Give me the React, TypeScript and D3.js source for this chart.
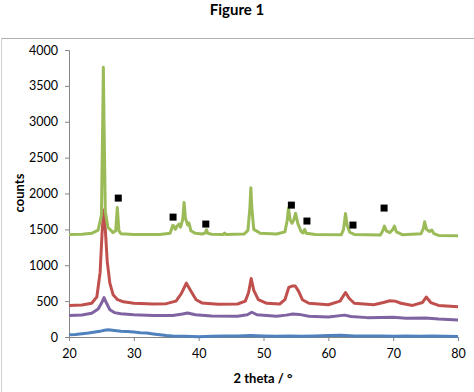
import React, { useRef, useEffect } from 'react';
import * as d3 from 'd3';

// 2 theta (deg) / counts
const greenTheta = [20, 22, 23.5, 24.5, 25.0, 25.2, 25.3, 25.4, 25.6, 26, 26.8, 27.2, 27.45, 27.7, 28, 30, 34, 35.6, 36.0, 36.2, 36.4, 36.8, 37.0, 37.2, 37.55, 37.75, 37.95, 38.3, 38.5, 38.8, 39.5, 40.5, 41.0, 41.2, 41.4, 42, 43.8, 44.0, 44.2, 47, 47.6, 47.9, 48.05, 48.2, 48.5, 49.5, 52, 53.3, 53.65, 53.85, 54.1, 54.4, 54.7, 54.95, 55.3, 55.8, 56.1, 56.35, 56.6, 58, 62, 62.35, 62.65, 62.9, 63.3, 64, 68, 68.35, 68.65, 68.95, 69.5, 69.95, 70.2, 70.5, 71.5, 74.3, 74.65, 74.85, 75.15, 75.6, 75.95, 76.3, 77, 80];
const greenCounts = [1430, 1432, 1445, 1490, 1700, 3000, 3760, 3000, 1750, 1530, 1455, 1480, 1805, 1480, 1440, 1428, 1430, 1445, 1555, 1545, 1500, 1560, 1575, 1530, 1640, 1875, 1660, 1560, 1590, 1480, 1445, 1435, 1450, 1495, 1445, 1432, 1430, 1448, 1430, 1435, 1485, 1800, 2080, 1800, 1500, 1445, 1435, 1465, 1620, 1795, 1640, 1585, 1640, 1725, 1580, 1470, 1450, 1500, 1445, 1430, 1425, 1500, 1720, 1560, 1460, 1430, 1420, 1470, 1545, 1480, 1455, 1500, 1545, 1465, 1425, 1440, 1510, 1605, 1500, 1470, 1490, 1440, 1415, 1410];

const redTheta = [20, 22, 23.5, 24.3, 24.8, 25.1, 25.35, 25.6, 25.9, 26.3, 26.8, 27.5, 28.4, 30, 33, 35, 36.5, 37.3, 38.1, 38.8, 39.6, 40.5, 43, 46, 47.2, 47.7, 48.1, 48.5, 49.2, 50.5, 52.5, 53.3, 53.9, 54.4, 54.9, 55.4, 56, 57, 60, 61.8, 62.65, 63.2, 64, 67, 68.5, 69.5, 70.3, 71.2, 73, 74.5, 75.1, 75.8, 77, 80];
const redCounts = [440, 445, 470, 560, 900, 1450, 1770, 1500, 1050, 750, 590, 520, 490, 470, 460, 465, 500, 600, 750, 640, 520, 475, 455, 460, 500, 620, 815, 650, 520, 470, 460, 520, 690, 710, 710, 640, 520, 470, 450, 500, 620, 540, 470, 450, 480, 505, 500, 470, 440, 480, 557, 480, 440, 422];

const purpleTheta = [20, 22, 23.5, 24.5, 25, 25.4, 25.8, 26.3, 27, 28, 30, 33, 36, 37.5, 38.3, 39.5, 42, 46, 47.5, 48.2, 49, 52, 53.5, 54.5, 55.5, 57, 60, 62.5, 63.5, 66, 70, 72, 75, 77, 80];
const purpleCounts = [300, 308, 330, 390, 470, 550, 470, 380, 340, 325, 310, 300, 300, 320, 335, 310, 292, 290, 310, 345, 310, 290, 305, 320, 315, 290, 280, 305, 285, 270, 275, 262, 265, 250, 238];

const blueTheta = [20, 21, 22, 23, 24, 25, 25.5, 26, 27, 28, 29, 30, 31, 32, 33, 34, 35, 36, 38, 40, 42, 44, 46, 48, 50, 52, 54, 56, 58, 60, 62, 64, 66, 68, 70, 72, 74, 76, 78, 80];
const blueCounts = [30, 35, 45, 55, 70, 85, 95, 100, 90, 80, 75, 70, 60, 55, 42, 30, 20, 15, 10, 5, 10, 15, 15, 20, 15, 10, 15, 10, 15, 20, 25, 15, 15, 15, 10, 15, 10, 15, 10, 6];

// black square markers
const markTheta = [27.6, 36.05, 41.1, 54.3, 56.7, 63.8, 68.6];
const markCounts = [1936, 1671, 1574, 1838, 1616, 1560, 1797];

const xTicks = [20, 30, 40, 50, 60, 70, 80];
const yTicks = [0, 500, 1000, 1500, 2000, 2500, 3000, 3500, 4000];

const App = () => {
  const ref = useRef<SVGSVGElement>(null);

  useEffect(() => {
    document.body.style.margin = '0';
    const svg = d3.select(ref.current);
    svg.selectAll('*').remove();
    const font = 'Lato, "Open Sans", sans-serif';
    const axisColor = '#868686';

    const x = d3.scaleLinear().domain([20, 80]).range([69, 458]);
    const y = d3.scaleLinear().domain([0, 4000]).range([337, 50]);

    // chart frame (top + left edge only visible)
    svg.append('line').attr('x1', 1).attr('x2', 474).attr('y1', 38.5).attr('y2', 38.5)
      .attr('stroke', '#b0b0b0').attr('stroke-width', 1);
    svg.append('line').attr('x1', 1.5).attr('x2', 1.5).attr('y1', 38.5).attr('y2', 392)
      .attr('stroke', '#d0d0d0').attr('stroke-width', 1);

    svg.append('text').attr('x', 237).attr('y', 15).attr('text-anchor', 'middle')
      .attr('font-family', font).attr('font-weight', 'bold').attr('font-size', 15)
      .attr('fill', '#000').text('Figure 1');

    // y axis
    const yAxis = svg.append('g').attr('transform', 'translate(69,0)')
      .call(d3.axisLeft(y).tickValues(yTicks).tickSize(4).tickPadding(7).tickFormat(d3.format('d')));
    yAxis.select('.domain').attr('stroke', axisColor);
    yAxis.selectAll('line').attr('stroke', axisColor);
    yAxis.selectAll('text').attr('font-family', font).attr('font-size', 12.5).attr('fill', '#000');

    // x axis
    const xAxis = svg.append('g').attr('transform', 'translate(0,337)')
      .call(d3.axisBottom(x).tickValues(xTicks).tickSize(4).tickPadding(8));
    xAxis.select('.domain').attr('stroke', axisColor);
    xAxis.selectAll('line').attr('stroke', axisColor);
    xAxis.selectAll('text').attr('font-family', font).attr('font-size', 12.5).attr('fill', '#000');

    svg.append('text').attr('x', 263).attr('y', 383).attr('text-anchor', 'middle')
      .attr('font-family', font).attr('font-weight', 'bold').attr('font-size', 13)
      .text('2 theta / °');
    svg.append('text').attr('transform', 'translate(24,193) rotate(-90)').attr('text-anchor', 'middle')
      .attr('font-family', font).attr('font-weight', 'bold').attr('font-size', 13)
      .text('counts');

    const line = d3.line<[number, number]>().x((d) => x(d[0])).y((d) => y(d[1]));
    const series: [number[], number[], string][] = [
      [blueTheta, blueCounts, '#4f81bd'],
      [purpleTheta, purpleCounts, '#8064a2'],
      [redTheta, redCounts, '#c0504d'],
      [greenTheta, greenCounts, '#9bbb59'],
    ];
    series.forEach(([tt, cc, col]) => {
      const pts = tt.map((t, i) => [t, cc[i]] as [number, number]);
      svg.append('path').attr('d', line(pts)).attr('fill', 'none')
        .attr('stroke', col).attr('stroke-width', 3).attr('stroke-linejoin', 'round');
    });

    svg.selectAll('.mark').data(markTheta).enter().append('rect')
      .attr('x', (d) => x(d) - 3.5)
      .attr('y', (d, i) => y(markCounts[i]) - 3.5)
      .attr('width', 7).attr('height', 7).attr('fill', '#000');
  }, []);

  return <svg ref={ref} width={474} height={392} style={{ display: 'block', background: '#fff' }}></svg>;
};

export default App;
